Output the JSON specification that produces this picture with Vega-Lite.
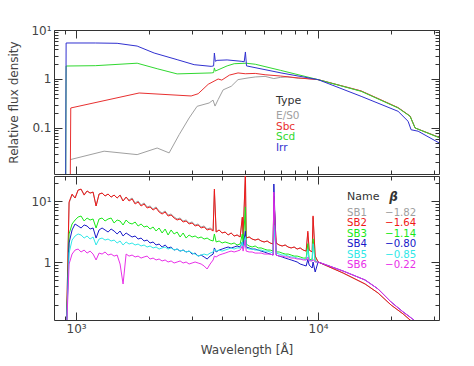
{
"$schema": "https://vega.github.io/schema/vega-lite/v6.json",
"padding": {"left": 7, "top": 23, "right": 10, "bottom": 5},
"spacing": 0,
"resolve": {"scale": {"color": "independent"}},
"config": {
  "view": {"stroke": "#333333", "strokeWidth": 1},
  "axis": {"domain": false, "grid": false, "labelFont": "DejaVu Sans", "labelFontSize": 12, "labelColor": "#444444", "titleFont": "DejaVu Sans", "titleFontSize": 12, "titleFontWeight": "normal", "titleColor": "#444444", "tickColor": "#333333", "labelOverlap": false, "labelFlush": false, "labelPadding": 11},
  "text": {"font": "DejaVu Sans", "fontSize": 10.4}
},
"vconcat": [
{
  "width": 385, "height": 144,
  "data": {"values": [
    {"t":"E/S0","w":945,"f":0.0226},{"t":"E/S0","w":1305,"f":0.0336},{"t":"E/S0","w":1787,"f":0.0286},{"t":"E/S0","w":2162,"f":0.039},{"t":"E/S0","w":2423,"f":0.031},{"t":"E/S0","w":2665,"f":0.073},{"t":"E/S0","w":2931,"f":0.16},{"t":"E/S0","w":3162,"f":0.277},{"t":"E/S0","w":3545,"f":0.324},{"t":"E/S0","w":3680,"f":0.37},{"t":"E/S0","w":3750,"f":0.28},{"t":"E/S0","w":3863,"f":0.38},{"t":"E/S0","w":4050,"f":0.6},{"t":"E/S0","w":4377,"f":0.71},{"t":"E/S0","w":4667,"f":0.97},{"t":"E/S0","w":5133,"f":1.05},{"t":"E/S0","w":5500,"f":1.1},{"t":"E/S0","w":6040,"f":1.13},{"t":"E/S0","w":6560,"f":1.02},{"t":"E/S0","w":7000,"f":1.08},{"t":"E/S0","w":7500,"f":1.1},{"t":"E/S0","w":8270,"f":1.04},{"t":"E/S0","w":9000,"f":1.02},{"t":"E/S0","w":10000,"f":0.97},{"t":"E/S0","w":15060,"f":0.57},{"t":"E/S0","w":21410,"f":0.26},{"t":"E/S0","w":24000,"f":0.175},{"t":"E/S0","w":25170,"f":0.1},{"t":"E/S0","w":32000,"f":0.063},
    {"t":"Sbc","w":945,"f":0.005},{"t":"Sbc","w":950,"f":0.256},{"t":"Sbc","w":1821,"f":0.518},{"t":"Sbc","w":2987,"f":0.45},{"t":"Sbc","w":3193,"f":0.5},{"t":"Sbc","w":3515,"f":0.78},{"t":"Sbc","w":3863,"f":1.0},{"t":"Sbc","w":4000,"f":0.95},{"t":"Sbc","w":4300,"f":1.2},{"t":"Sbc","w":4667,"f":1.33},{"t":"Sbc","w":5000,"f":1.28},{"t":"Sbc","w":5500,"f":1.3},{"t":"Sbc","w":6040,"f":1.22},{"t":"Sbc","w":7000,"f":1.15},{"t":"Sbc","w":8270,"f":1.05},{"t":"Sbc","w":10000,"f":0.97},{"t":"Sbc","w":15060,"f":0.57},{"t":"Sbc","w":21410,"f":0.26},{"t":"Sbc","w":24000,"f":0.175},{"t":"Sbc","w":25170,"f":0.1},{"t":"Sbc","w":32000,"f":0.063},
    {"t":"Scd","w":905,"f":0.005},{"t":"Scd","w":909,"f":1.84},{"t":"Scd","w":1200,"f":1.87},{"t":"Scd","w":1787,"f":2.1},{"t":"Scd","w":2162,"f":1.62},{"t":"Scd","w":2615,"f":1.27},{"t":"Scd","w":3614,"f":1.33},{"t":"Scd","w":3700,"f":1.35},{"t":"Scd","w":3727,"f":1.68},{"t":"Scd","w":3760,"f":1.45},{"t":"Scd","w":4207,"f":1.85},{"t":"Scd","w":4500,"f":2.05},{"t":"Scd","w":5042,"f":2.1},{"t":"Scd","w":5500,"f":2.0},{"t":"Scd","w":7000,"f":1.5},{"t":"Scd","w":10000,"f":0.97},{"t":"Scd","w":15060,"f":0.56},{"t":"Scd","w":21410,"f":0.256},{"t":"Scd","w":24000,"f":0.173},{"t":"Scd","w":25170,"f":0.1},{"t":"Scd","w":32000,"f":0.062},
    {"t":"Irr","w":905,"f":0.005},{"t":"Irr","w":909,"f":5.43},{"t":"Irr","w":1200,"f":5.43},{"t":"Irr","w":1477,"f":5.35},{"t":"Irr","w":1787,"f":4.7},{"t":"Irr","w":2101,"f":3.39},{"t":"Irr","w":2615,"f":2.48},{"t":"Irr","w":3074,"f":1.96},{"t":"Irr","w":3614,"f":1.81},{"t":"Irr","w":3700,"f":1.85},{"t":"Irr","w":3727,"f":3.39},{"t":"Irr","w":3760,"f":2.3},{"t":"Irr","w":3825,"f":2.4},{"t":"Irr","w":4207,"f":2.45},{"t":"Irr","w":4807,"f":2.3},{"t":"Irr","w":4950,"f":2.25},{"t":"Irr","w":5007,"f":3.56},{"t":"Irr","w":5060,"f":1.85},{"t":"Irr","w":7031,"f":1.33},{"t":"Irr","w":10000,"f":0.97},{"t":"Irr","w":15060,"f":0.443},{"t":"Irr","w":21410,"f":0.219},{"t":"Irr","w":23550,"f":0.137},{"t":"Irr","w":24230,"f":0.092},{"t":"Irr","w":25900,"f":0.086},{"t":"Irr","w":32000,"f":0.048}
  ]},
  "layer": [
    {
      "mark": {"type": "line", "clip": true, "strokeWidth": 1},
      "encoding": {
        "x": {"field": "w", "type": "quantitative", "scale": {"type": "log", "domain": [810, 31600], "nice": false},
              "axis": {"orient": "bottom", "values": [900,1000,2000,3000,4000,5000,6000,7000,8000,9000,10000,20000,30000], "labels": false, "title": null,
                       "tickSize": {"condition": {"test": "datum.value == 1000 || datum.value == 10000", "value": -8}, "value": -4}}},
        "y": {"field": "f", "type": "quantitative", "scale": {"type": "log", "domain": [0.0115, 10], "nice": false},
              "axis": {"orient": "left", "values": [0.02,0.03,0.04,0.05,0.06,0.07,0.08,0.09,0.1,0.2,0.3,0.4,0.5,0.6,0.7,0.8,0.9,1,2,3,4,5,6,7,8,9,10],
                       "labelExpr": "datum.value == 10 ? '10¹' : datum.value == 1 ? '1' : datum.value == 0.1 ? '0.1' : ''",
                       "tickSize": {"condition": {"test": "datum.value == 0.1 || datum.value == 1 || datum.value == 10", "value": -8}, "value": -4},
                       "title": "Relative flux density", "titlePadding": 10}},
        "color": {"field": "t", "type": "nominal", "scale": {"domain": ["E/S0","Sbc","Scd","Irr"], "range": ["#a0a0a0","#e83030","#30d830","#3030d0"]}, "legend": null}
      }
    },
    {
      "mark": {"type": "line", "clip": true, "opacity": 0},
      "encoding": {
        "x": {"field": "w", "type": "quantitative", "scale": {"type": "log", "domain": [810, 31600], "nice": false},
              "axis": {"orient": "top", "values": [900,1000,2000,3000,4000,5000,6000,7000,8000,9000,10000,20000,30000], "labels": false, "title": null,
                       "tickSize": {"condition": {"test": "datum.value == 1000 || datum.value == 10000", "value": -8}, "value": -4}}},
        "y": {"field": "f", "type": "quantitative", "scale": {"type": "log", "domain": [0.0115, 10], "nice": false},
              "axis": {"orient": "right", "values": [0.02,0.03,0.04,0.05,0.06,0.07,0.08,0.09,0.1,0.2,0.3,0.4,0.5,0.6,0.7,0.8,0.9,1,2,3,4,5,6,7,8,9,10], "labels": false, "title": null,
                       "tickSize": {"condition": {"test": "datum.value == 0.1 || datum.value == 1 || datum.value == 10", "value": -8}, "value": -4}}},
        "detail": {"field": "t"}
      }
    },
    {
      "data": {"values": [{"t":"E/S0","r":1},{"t":"Sbc","r":2},{"t":"Scd","r":3},{"t":"Irr","r":4}]},
      "mark": {"type": "text", "align": "left", "baseline": "middle", "fontSize": 10.5},
      "encoding": {
        "x": {"datum": 6700, "type": "quantitative", "axis": null},
        "y": {"field": "r", "type": "quantitative", "scale": {"domain": [-7.06, 6.44], "reverse": true, "nice": false}, "axis": null},
        "text": {"field": "t"},
        "color": {"field": "t", "type": "nominal", "legend": null}
      }
    },
    {
      "data": {"values": [{"h":"Type"}]},
      "mark": {"type": "text", "align": "left", "baseline": "middle", "fontSize": 11, "dy": -4, "color": "#333333"},
      "encoding": {
        "x": {"datum": 6700, "type": "quantitative", "axis": null},
        "y": {"datum": 0, "type": "quantitative", "scale": {"domain": [-7.06, 6.44], "reverse": true, "nice": false}, "axis": null},
        "text": {"field": "h"}
      }
    }
  ],
  "resolve": {"scale": {"y": "independent"}, "axis": {"x": "independent", "y": "independent"}}
},
{
  "width": 385, "height": 144,
  "data": {"values": [
{"w":909,"SB1":0.05,"SB2":0.05,"SB3":0.05,"SB4":0.05,"SB5":0.05,"SB6":0.05},
{"w":935,"SB1":9.3,"SB2":9.63,"SB3":2.88,"SB4":2.05,"SB5":1.4,"SB6":0.927},
{"w":962,"SB1":12.5,"SB2":13.0,"SB3":4.2,"SB4":3.35,"SB5":2.29,"SB6":1.35},
{"w":990,"SB1":11.2,"SB2":11.2,"SB3":4.88,"SB4":4.2,"SB5":2.67,"SB6":1.57},
{"w":1019,"SB1":15.1,"SB2":15.1,"SB3":5.46,"SB4":3.89,"SB5":2.88,"SB6":1.63},
{"w":1048,"SB1":15.5,"SB2":15.7,"SB3":5.67,"SB4":3.61,"SB5":2.77,"SB6":1.46},
{"w":1079,"SB1":12.8,"SB2":12.5,"SB3":4.7,"SB4":4.04,"SB5":2.47,"SB6":1.57},
{"w":1110,"SB1":14.6,"SB2":14.6,"SB3":5.26,"SB4":3.89,"SB5":2.67,"SB6":1.4},
{"w":1142,"SB1":13.5,"SB2":13.5,"SB3":4.88,"SB4":3.47,"SB5":2.38,"SB6":1.51},
{"w":1175,"SB1":14.0,"SB2":14.0,"SB3":5.07,"SB4":3.61,"SB5":2.57,"SB6":1.35},
{"w":1209,"SB1":8.28,"SB2":8.28,"SB3":3.61,"SB4":2.47,"SB5":1.9,"SB6":1.08},
{"w":1244,"SB1":13.0,"SB2":13.0,"SB3":5.07,"SB4":3.35,"SB5":2.38,"SB6":1.4},
{"w":1280,"SB1":13.5,"SB2":13.5,"SB3":5.26,"SB4":3.61,"SB5":2.47,"SB6":1.35},
{"w":1317,"SB1":12.1,"SB2":12.1,"SB3":4.7,"SB4":3.35,"SB5":2.29,"SB6":1.46},
{"w":1355,"SB1":13.0,"SB2":13.0,"SB3":5.07,"SB4":3.1,"SB5":2.38,"SB6":1.3},
{"w":1395,"SB1":11.6,"SB2":11.6,"SB3":5.26,"SB4":3.47,"SB5":2.21,"SB6":1.35},
{"w":1435,"SB1":12.5,"SB2":12.5,"SB3":4.36,"SB4":3.22,"SB5":2.29,"SB6":1.25},
{"w":1477,"SB1":11.2,"SB2":11.2,"SB3":4.88,"SB4":2.88,"SB5":2.05,"SB6":1.3},
{"w":1519,"SB1":12.5,"SB2":12.5,"SB3":4.7,"SB4":3.22,"SB5":2.21,"SB6":0.927},
{"w":1563,"SB1":10.0,"SB2":10.0,"SB3":4.04,"SB4":2.67,"SB5":1.9,"SB6":0.436},
{"w":1609,"SB1":11.6,"SB2":11.6,"SB3":4.88,"SB4":2.99,"SB5":2.13,"SB6":1.35},
{"w":1655,"SB1":10.4,"SB2":10.0,"SB3":4.36,"SB4":2.77,"SB5":1.97,"SB6":1.25},
{"w":1703,"SB1":11.2,"SB2":10.8,"SB3":4.2,"SB4":2.57,"SB5":2.05,"SB6":1.3},
{"w":1753,"SB1":9.29,"SB2":8.93,"SB3":4.52,"SB4":2.67,"SB5":1.9,"SB6":1.21},
{"w":1803,"SB1":10.0,"SB2":9.63,"SB3":3.89,"SB4":2.38,"SB5":1.97,"SB6":1.25},
{"w":1855,"SB1":8.61,"SB2":8.28,"SB3":4.2,"SB4":2.47,"SB5":1.83,"SB6":1.16},
{"w":1909,"SB1":9.29,"SB2":8.93,"SB3":3.75,"SB4":2.21,"SB5":1.9,"SB6":1.21},
{"w":1965,"SB1":7.99,"SB2":7.68,"SB3":3.89,"SB4":2.29,"SB5":1.76,"SB6":1.25},
{"w":2021,"SB1":8.29,"SB2":7.97,"SB3":3.47,"SB4":2.05,"SB5":1.83,"SB6":1.12},
{"w":2080,"SB1":7.4,"SB2":7.12,"SB3":3.75,"SB4":2.13,"SB5":1.7,"SB6":1.16},
{"w":2140,"SB1":7.99,"SB2":7.68,"SB3":3.22,"SB4":1.9,"SB5":1.76,"SB6":1.08},
{"w":2202,"SB1":6.86,"SB2":6.6,"SB3":3.61,"SB4":1.97,"SB5":1.63,"SB6":1.12},
{"w":2266,"SB1":6.36,"SB2":6.12,"SB3":2.99,"SB4":1.76,"SB5":1.7,"SB6":1.04},
{"w":2332,"SB1":6.86,"SB2":6.6,"SB3":3.47,"SB4":1.9,"SB5":1.76,"SB6":1.08},
{"w":2399,"SB1":5.9,"SB2":5.67,"SB3":2.77,"SB4":1.7,"SB5":1.63,"SB6":1.0},
{"w":2469,"SB1":6.13,"SB2":5.89,"SB3":3.35,"SB4":1.76,"SB5":1.7,"SB6":1.04},
{"w":2540,"SB1":5.47,"SB2":5.26,"SB3":2.88,"SB4":1.57,"SB5":1.57,"SB6":0.963},
{"w":2614,"SB1":5.08,"SB2":4.88,"SB3":3.1,"SB4":1.63,"SB5":1.63,"SB6":1.0},
{"w":2690,"SB1":5.27,"SB2":5.07,"SB3":2.57,"SB4":1.51,"SB5":1.51,"SB6":1.04},
{"w":2768,"SB1":4.7,"SB2":4.52,"SB3":2.99,"SB4":1.57,"SB5":1.57,"SB6":0.963},
{"w":2848,"SB1":4.89,"SB2":4.7,"SB3":2.47,"SB4":1.46,"SB5":1.46,"SB6":1.0},
{"w":2930,"SB1":4.37,"SB2":4.2,"SB3":2.77,"SB4":1.51,"SB5":1.51,"SB6":0.927},
{"w":3015,"SB1":4.53,"SB2":4.36,"SB3":2.57,"SB4":1.35,"SB5":1.4,"SB6":0.963},
{"w":3103,"SB1":4.05,"SB2":3.89,"SB3":2.67,"SB4":1.4,"SB5":1.35,"SB6":1.0},
{"w":3193,"SB1":4.2,"SB2":4.04,"SB3":2.47,"SB4":1.25,"SB5":1.25,"SB6":0.963},
{"w":3285,"SB1":3.75,"SB2":3.61,"SB3":2.57,"SB4":1.3,"SB5":1.3,"SB6":0.927},
{"w":3380,"SB1":3.9,"SB2":3.75,"SB3":2.38,"SB4":1.21,"SB5":1.35,"SB6":0.86},
{"w":3478,"SB1":3.48,"SB2":3.35,"SB3":2.47,"SB4":1.12,"SB5":1.3,"SB6":0.768},
{"w":3579,"SB1":3.61,"SB2":3.47,"SB3":2.29,"SB4":1.25,"SB5":1.4,"SB6":0.927},
{"w":3683,"SB1":3.35,"SB2":3.22,"SB3":2.21,"SB4":1.35,"SB5":1.46,"SB6":1.08},
{"w":3727,"SB1":14.5,"SB2":15.7,"SB3":2.88,"SB4":1.7,"SB5":1.63,"SB6":1.25},
{"w":3790,"SB1":3.1,"SB2":3.1,"SB3":2.13,"SB4":1.46,"SB5":1.51,"SB6":1.21},
{"w":3899,"SB1":3.35,"SB2":3.35,"SB3":2.21,"SB4":1.57,"SB5":1.57,"SB6":1.3},
{"w":4012,"SB1":2.99,"SB2":2.99,"SB3":2.05,"SB4":1.63,"SB5":1.51,"SB6":1.35},
{"w":4129,"SB1":3.1,"SB2":3.1,"SB3":2.13,"SB4":1.7,"SB5":1.57,"SB6":1.4},
{"w":4248,"SB1":2.77,"SB2":2.77,"SB3":2.05,"SB4":1.76,"SB5":1.63,"SB6":1.46},
{"w":4371,"SB1":2.99,"SB2":2.99,"SB3":1.97,"SB4":1.7,"SB5":1.7,"SB6":1.51},
{"w":4498,"SB1":2.67,"SB2":2.67,"SB3":2.05,"SB4":1.76,"SB5":1.63,"SB6":1.46},
{"w":4628,"SB1":2.77,"SB2":2.77,"SB3":1.9,"SB4":1.83,"SB5":1.7,"SB6":1.51},
{"w":4762,"SB1":2.57,"SB2":2.57,"SB3":1.97,"SB4":1.76,"SB5":1.7,"SB6":1.57},
{"w":4861,"SB1":5.2,"SB2":5.46,"SB3":2.88,"SB4":2.13,"SB5":2.13,"SB6":1.83},
{"w":4900,"SB1":2.67,"SB2":2.67,"SB3":1.9,"SB4":1.83,"SB5":1.63,"SB6":1.51},
{"w":5007,"SB1":28,"SB2":30,"SB3":8.0,"SB4":3.2,"SB5":2.6,"SB6":2.3},
{"w":5042,"SB1":2.47,"SB2":2.47,"SB3":1.97,"SB4":1.76,"SB5":1.7,"SB6":1.51},
{"w":5188,"SB1":2.57,"SB2":2.57,"SB3":1.83,"SB4":1.7,"SB5":1.63,"SB6":1.46},
{"w":5339,"SB1":2.38,"SB2":2.38,"SB3":1.76,"SB4":1.63,"SB5":1.63,"SB6":1.46},
{"w":5493,"SB1":2.29,"SB2":2.29,"SB3":1.83,"SB4":1.63,"SB5":1.57,"SB6":1.4},
{"w":5652,"SB1":2.38,"SB2":2.38,"SB3":1.7,"SB4":1.57,"SB5":1.57,"SB6":1.4},
{"w":5816,"SB1":2.21,"SB2":2.21,"SB3":1.7,"SB4":1.51,"SB5":1.57,"SB6":1.4},
{"w":5985,"SB1":2.13,"SB2":2.13,"SB3":1.63,"SB4":1.46,"SB5":1.51,"SB6":1.35},
{"w":6158,"SB1":2.21,"SB2":2.21,"SB3":1.57,"SB4":1.4,"SB5":1.51,"SB6":1.35},
{"w":6337,"SB1":2.05,"SB2":2.05,"SB3":1.57,"SB4":1.35,"SB5":1.46,"SB6":1.35},
{"w":6520,"SB1":1.97,"SB2":1.97,"SB3":1.51,"SB4":1.3,"SB5":1.4,"SB6":1.3},
{"w":6563,"SB1":11,"SB2":12,"SB3":5,"SB4":19,"SB5":4,"SB6":14},
{"w":6709,"SB1":2.05,"SB2":2.05,"SB3":1.46,"SB4":1.3,"SB5":1.4,"SB6":1.3},
{"w":6904,"SB1":1.9,"SB2":1.9,"SB3":1.46,"SB4":1.25,"SB5":1.35,"SB6":1.25},
{"w":7104,"SB1":1.83,"SB2":1.83,"SB3":1.4,"SB4":1.21,"SB5":1.3,"SB6":1.25},
{"w":7309,"SB1":1.9,"SB2":1.9,"SB3":1.35,"SB4":1.16,"SB5":1.3,"SB6":1.21},
{"w":7521,"SB1":1.76,"SB2":1.76,"SB3":1.35,"SB4":1.12,"SB5":1.25,"SB6":1.21},
{"w":7739,"SB1":1.7,"SB2":1.7,"SB3":1.3,"SB4":1.08,"SB5":1.21,"SB6":1.16},
{"w":7963,"SB1":1.76,"SB2":1.76,"SB3":1.25,"SB4":1.04,"SB5":1.21,"SB6":1.16},
{"w":8194,"SB1":1.63,"SB2":1.63,"SB3":1.25,"SB4":1.0,"SB5":1.16,"SB6":1.12},
{"w":8432,"SB1":1.7,"SB2":1.7,"SB3":1.21,"SB4":0.927,"SB5":1.12,"SB6":1.12},
{"w":8676,"SB1":1.57,"SB2":1.57,"SB3":1.16,"SB4":0.893,"SB5":1.12,"SB6":1.08},
{"w":8927,"SB1":1.51,"SB2":1.51,"SB3":1.16,"SB4":0.86,"SB5":1.08,"SB6":1.08},
{"w":9069,"SB1":3.0,"SB2":3.2,"SB3":2.0,"SB4":1.1,"SB5":1.6,"SB6":1.2},
{"w":9186,"SB1":1.57,"SB2":1.57,"SB3":1.08,"SB4":0.893,"SB5":1.08,"SB6":1.04},
{"w":9452,"SB1":1.46,"SB2":1.46,"SB3":1.12,"SB4":0.797,"SB5":1.04,"SB6":1.04},
{"w":9532,"SB1":5.4,"SB2":5.7,"SB3":2.4,"SB4":1.0,"SB5":2.0,"SB6":1.1},
{"w":9726,"SB1":1.25,"SB2":1.25,"SB3":1.04,"SB4":0.686,"SB5":1.0,"SB6":1.0},
{"w":10000,"SB1":1.0,"SB2":1.0,"SB3":1.0,"SB4":1.0,"SB5":1.0,"SB6":1.0},
{"w":12686,"SB1":0.66,"SB2":0.66,"SB4":0.712,"SB6":0.712},
{"w":15640,"SB1":0.436,"SB2":0.436,"SB4":0.507,"SB6":0.507},
{"w":17700,"SB1":0.31,"SB2":0.31,"SB4":0.361,"SB6":0.361},
{"w":20030,"SB1":0.197,"SB2":0.197,"SB4":0.221,"SB6":0.221},
{"w":22450,"SB1":0.141,"SB2":0.141,"SB4":0.152,"SB6":0.152},
{"w":24000,"SB1":0.112,"SB2":0.112,"SB4":0.125,"SB6":0.125},
{"w":25900,"SB1":0.089,"SB2":0.089,"SB4":0.098,"SB6":0.098}
  ]},
  "layer": [
    {
      "transform": [{"fold": ["SB1","SB2","SB3","SB4","SB5","SB6"], "as": ["s","f"]}, {"filter": "isValid(datum.f)"}],
      "mark": {"type": "line", "clip": true, "strokeWidth": 1},
      "encoding": {
        "x": {"field": "w", "type": "quantitative", "scale": {"type": "log", "domain": [810, 31600], "nice": false},
              "axis": {"orient": "bottom", "values": [900,1000,2000,3000,4000,5000,6000,7000,8000,9000,10000,20000,30000],
                       "labelExpr": "datum.value == 1000 ? '10³' : datum.value == 10000 ? '10⁴' : ''",
                       "tickSize": {"condition": {"test": "datum.value == 1000 || datum.value == 10000", "value": -8}, "value": -4},
                       "title": "Wavelength [Å]", "titlePadding": 6}},
        "y": {"field": "f", "type": "quantitative", "scale": {"type": "log", "domain": [0.112, 25.7], "nice": false},
              "axis": {"orient": "left", "values": [0.2,0.3,0.4,0.5,0.6,0.7,0.8,0.9,1,2,3,4,5,6,7,8,9,10,20],
                       "labelExpr": "datum.value == 10 ? '10¹' : datum.value == 1 ? '1' : ''",
                       "tickSize": {"condition": {"test": "datum.value == 1 || datum.value == 10", "value": -8}, "value": -4},
                       "title": null}},
        "color": {"field": "s", "type": "nominal", "scale": {"domain": ["SB1","SB2","SB3","SB4","SB5","SB6"], "range": ["#a0a0a0","#f01818","#18e818","#1818c8","#30e8e8","#e830e8"]}, "legend": null}
      }
    },
    {
      "transform": [{"fold": ["SB1","SB2","SB3","SB4","SB5","SB6"], "as": ["s","f"]}, {"filter": "isValid(datum.f)"}],
      "mark": {"type": "line", "clip": true, "opacity": 0},
      "encoding": {
        "x": {"field": "w", "type": "quantitative", "scale": {"type": "log", "domain": [810, 31600], "nice": false},
              "axis": {"orient": "top", "values": [900,1000,2000,3000,4000,5000,6000,7000,8000,9000,10000,20000,30000], "labels": false, "title": null,
                       "tickSize": {"condition": {"test": "datum.value == 1000 || datum.value == 10000", "value": -8}, "value": -4}}},
        "y": {"field": "f", "type": "quantitative", "scale": {"type": "log", "domain": [0.112, 25.7], "nice": false},
              "axis": {"orient": "right", "values": [0.2,0.3,0.4,0.5,0.6,0.7,0.8,0.9,1,2,3,4,5,6,7,8,9,10,20], "labels": false, "title": null,
                       "tickSize": {"condition": {"test": "datum.value == 1 || datum.value == 10", "value": -8}, "value": -4}}},
        "detail": {"field": "s"}
      }
    },
    {
      "data": {"values": [{"s":"SB1","b":"−1.82","r":1},{"s":"SB2","b":"−1.64","r":2},{"s":"SB3","b":"−1.14","r":3},{"s":"SB4","b":"−0.80","r":4},{"s":"SB5","b":"−0.85","r":5},{"s":"SB6","b":"−0.22","r":6}]},
      "mark": {"type": "text", "align": "left", "baseline": "middle", "fontSize": 10.2},
      "encoding": {
        "x": {"datum": 13180, "type": "quantitative", "axis": null},
        "y": {"field": "r", "type": "quantitative", "scale": {"domain": [-2.56, 11.29], "reverse": true, "nice": false}, "axis": null},
        "text": {"field": "s"},
        "color": {"field": "s", "type": "nominal", "legend": null}
      }
    },
    {
      "data": {"values": [{"s":"SB1","b":"−1.82","r":1},{"s":"SB2","b":"−1.64","r":2},{"s":"SB3","b":"−1.14","r":3},{"s":"SB4","b":"−0.80","r":4},{"s":"SB5","b":"−0.85","r":5},{"s":"SB6","b":"−0.22","r":6}]},
      "mark": {"type": "text", "align": "left", "baseline": "middle", "fontSize": 10.2},
      "encoding": {
        "x": {"datum": 18920, "type": "quantitative", "axis": null},
        "y": {"field": "r", "type": "quantitative", "scale": {"domain": [-2.56, 11.29], "reverse": true, "nice": false}, "axis": null},
        "text": {"field": "b"},
        "color": {"field": "s", "type": "nominal", "legend": null}
      }
    },
    {
      "data": {"values": [{"h":"Name"}]},
      "mark": {"type": "text", "align": "left", "baseline": "middle", "fontSize": 11, "dy": -5.6, "color": "#333333"},
      "encoding": {
        "x": {"datum": 13180, "type": "quantitative", "axis": null},
        "y": {"datum": 0, "type": "quantitative", "scale": {"domain": [-2.56, 11.29], "reverse": true, "nice": false}, "axis": null},
        "text": {"field": "h"}
      }
    },
    {
      "data": {"values": [{"h":"β"}]},
      "mark": {"type": "text", "align": "left", "baseline": "middle", "fontSize": 12, "fontWeight": "bold", "fontStyle": "italic", "dy": -5.6, "color": "#333333"},
      "encoding": {
        "x": {"datum": 19660, "type": "quantitative", "axis": null},
        "y": {"datum": 0, "type": "quantitative", "scale": {"domain": [-2.56, 11.29], "reverse": true, "nice": false}, "axis": null},
        "text": {"field": "h"}
      }
    }
  ],
  "resolve": {"scale": {"y": "independent"}, "axis": {"x": "independent", "y": "independent"}}
}
]
}
